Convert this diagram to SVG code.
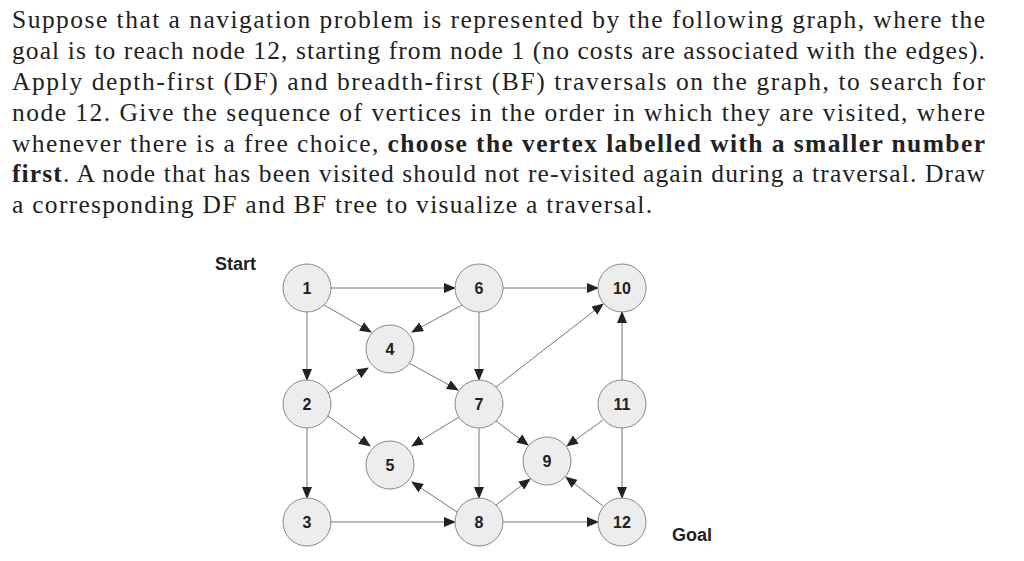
<svg xmlns="http://www.w3.org/2000/svg" width="1024" height="561" viewBox="0 0 1024 561">
<style>
.p{font-family:"Liberation Serif",serif;font-size:25.5px;fill:#222}
.b{font-weight:bold}
.n circle{fill:#ededed;stroke:#888;stroke-width:1}
.n text{font-family:"Liberation Sans",sans-serif;font-weight:bold;font-size:16px;fill:#222;text-anchor:middle}
.lbl{font-family:"Liberation Sans",sans-serif;font-weight:bold;font-size:18px;fill:#222}
#edges line{stroke:#777;stroke-width:1;marker-end:url(#a)}
</style>
<defs><marker id="a" markerWidth="12" markerHeight="10" refX="11" refY="5" orient="auto" markerUnits="userSpaceOnUse"><path d="M0,0L12,5L0,10z" fill="#222"/></marker></defs>
<rect width="1024" height="561" fill="#fff"/>
<text class="p" x="12" y="28" textLength="973" lengthAdjust="spacing">Suppose that a navigation problem is represented by the following graph, where the</text>
<text class="p" x="12" y="59" textLength="973" lengthAdjust="spacing">goal is to reach node 12, starting from node 1 (no costs are associated with the edges).</text>
<text class="p" x="12" y="90" textLength="973" lengthAdjust="spacing">Apply depth-first (DF) and breadth-first (BF) traversals on the graph, to search for</text>
<text class="p" x="12" y="121" textLength="973" lengthAdjust="spacing">node 12.  Give the sequence of vertices in the order in which they are visited, where</text>
<text class="p" x="12" y="152" textLength="973" lengthAdjust="spacing">whenever there is a free choice, <tspan class="b">choose the vertex labelled with a smaller number</tspan></text>
<text class="p" x="12" y="182" textLength="973" lengthAdjust="spacing"><tspan class="b">first</tspan>.  A node that has been visited should not re-visited again during a traversal.  Draw</text>
<text class="p" x="12" y="213" textLength="640" lengthAdjust="spacing">a corresponding DF and BF tree to visualize a traversal.</text>
<text class="lbl" x="215" y="270">Start</text>
<text class="lbl" x="672" y="541">Goal</text>
<g id="edges">
<line x1="331" y1="288" x2="455" y2="288"/>
<line x1="503" y1="288" x2="598" y2="288"/>
<line x1="324" y1="305" x2="371" y2="332"/>
<line x1="462" y1="305" x2="412" y2="332"/>
<line x1="307" y1="312" x2="307" y2="380"/>
<line x1="479" y1="312" x2="479" y2="380"/>
<line x1="496" y1="387" x2="603" y2="304"/>
<line x1="622" y1="380" x2="622" y2="312"/>
<line x1="328" y1="393" x2="368" y2="368"/>
<line x1="409" y1="363" x2="458" y2="390"/>
<line x1="328" y1="416" x2="370" y2="446"/>
<line x1="459" y1="417" x2="412" y2="446"/>
<line x1="496" y1="421" x2="528" y2="445"/>
<line x1="603" y1="420" x2="567" y2="446"/>
<line x1="479" y1="428" x2="479" y2="498"/>
<line x1="622" y1="428" x2="622" y2="498"/>
<line x1="307" y1="428" x2="307" y2="498"/>
<line x1="457" y1="512" x2="412" y2="482"/>
<line x1="496" y1="505" x2="530" y2="479"/>
<line x1="603" y1="506" x2="566" y2="477"/>
<line x1="331" y1="522" x2="455" y2="522"/>
<line x1="503" y1="522" x2="598" y2="522"/>
</g>
<g id="n1" class="n"><circle cx="307" cy="288" r="24"/><text x="307" y="294">1</text></g>
<g id="n6" class="n"><circle cx="479" cy="288" r="24"/><text x="479" y="294">6</text></g>
<g id="n10" class="n"><circle cx="622" cy="288" r="24"/><text x="622" y="294">10</text></g>
<g id="n4" class="n"><circle cx="390" cy="349" r="24"/><text x="390" y="355">4</text></g>
<g id="n2" class="n"><circle cx="307" cy="404" r="24"/><text x="307" y="410">2</text></g>
<g id="n7" class="n"><circle cx="479" cy="404" r="24"/><text x="479" y="410">7</text></g>
<g id="n11" class="n"><circle cx="622" cy="404" r="24"/><text x="622" y="410">11</text></g>
<g id="n5" class="n"><circle cx="390" cy="465" r="24"/><text x="390" y="471">5</text></g>
<g id="n9" class="n"><circle cx="547" cy="461" r="24"/><text x="547" y="467">9</text></g>
<g id="n3" class="n"><circle cx="307" cy="522" r="24"/><text x="307" y="528">3</text></g>
<g id="n8" class="n"><circle cx="479" cy="522" r="24"/><text x="479" y="528">8</text></g>
<g id="n12" class="n"><circle cx="622" cy="522" r="24"/><text x="622" y="528">12</text></g>
</svg>
